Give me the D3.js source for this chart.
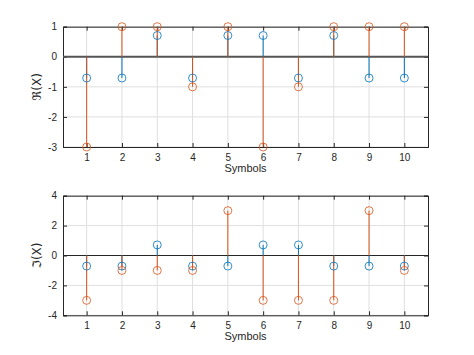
<!DOCTYPE html>
<html><head><meta charset="utf-8">
<script src="https://cdn.jsdelivr.net/npm/d3@7"></script>
<style>body{margin:0;background:#fff}svg text{font-family:Arial,"Liberation Sans",sans-serif}</style>
</head><body>
<svg id="c" width="474" height="355"></svg>
<script>
const symbols = [1,2,3,4,5,6,7,8,9,10];
const realRx = [-0.707,-0.707,0.707,-0.707,0.707,0.707,-0.707,0.707,-0.707,-0.707];
const realTx = [-3,1,1,-1,1,-3,-1,1,1,1];
const imagRx = [-0.707,-0.707,0.707,-0.707,-0.707,0.707,0.707,-0.707,-0.707,-0.707];
const imagTx = [-3,-1,-1,-1,3,-3,-3,-3,3,-1];
const realTicks = [-3,-2,-1,0,1];
const imagTicks = [-4,-2,0,2,4];
const xTicks = [1,2,3,4,5,6,7,8,9,10];

const svg = d3.select("#c");
const left = 63, right = 428;
const blue = "#0072BD", orange = "#D95319";

function panel(top, bottom, ydom, yticks, s1, s2, ylabel, thickBase) {
  const x = d3.scaleLinear().domain([0.33, 10.67]).range([left, right]);
  const y = d3.scaleLinear().domain(ydom).range([bottom, top]);
  const g = svg.append("g");
  g.selectAll(".gx").data(xTicks).enter().append("line")
    .attr("x1", d => x(d)).attr("x2", d => x(d)).attr("y1", top).attr("y2", bottom)
    .attr("stroke", "#dfdfdf").attr("stroke-width", 1);
  g.selectAll(".gy").data(yticks).enter().append("line")
    .attr("y1", d => y(d)).attr("y2", d => y(d)).attr("x1", left).attr("x2", right)
    .attr("stroke", "#dfdfdf").attr("stroke-width", 1);
  const fmt = d => String(d);
  const xa = g.append("g").attr("transform", `translate(0,${bottom})`)
    .call(d3.axisBottom(x).tickValues(xTicks).tickSize(-4).tickPadding(7).tickFormat(fmt));
  const xt = g.append("g").attr("transform", `translate(0,${top})`)
    .call(d3.axisTop(x).tickValues(xTicks).tickSize(-4).tickFormat(""));
  const ya = g.append("g").attr("transform", `translate(${left},0)`)
    .call(d3.axisLeft(y).tickValues(yticks).tickSize(-4).tickPadding(6).tickFormat(fmt));
  const yr = g.append("g").attr("transform", `translate(${right},0)`)
    .call(d3.axisRight(y).tickValues(yticks).tickSize(-4).tickFormat(""));
  [xa, xt, ya, yr].forEach(a => {
    a.select(".domain").attr("stroke", "#262626");
    a.selectAll(".tick line").attr("stroke", "#262626");
    a.selectAll("text").attr("fill", "#262626").style("font-size", "10px");
  });
  g.append("line").attr("x1", left).attr("x2", right).attr("y1", y(0)).attr("y2", y(0))
    .attr("stroke", thickBase ? "#555" : "#262626").attr("stroke-width", thickBase ? 2 : 1);
  [[s1, blue], [s2, orange]].forEach(([vals, col]) => {
    g.selectAll(null).data(vals).enter().append("line")
      .attr("x1", (d, i) => x(symbols[i])).attr("x2", (d, i) => x(symbols[i]))
      .attr("y1", y(0)).attr("y2", d => y(d))
      .attr("stroke", col).attr("stroke-width", 1);
  });
  [[s1, blue], [s2, orange]].forEach(([vals, col]) => {
    g.selectAll(null).data(vals).enter().append("circle")
      .attr("cx", (d, i) => x(symbols[i])).attr("cy", d => y(d)).attr("r", 4)
      .attr("fill", "none").attr("stroke", col).attr("stroke-width", 0.8);
  });
  g.append("text").attr("x", (left + right) / 2).attr("y", bottom + 25)
    .attr("text-anchor", "middle").style("font-size", "11px").attr("fill", "#262626").text("Symbols");
  g.append("text").attr("transform", `translate(41,${(top + bottom) / 2}) rotate(-90)`)
    .attr("text-anchor", "middle").style("font-size", "12px").style("font-family", "'DejaVu Sans', sans-serif")
    .attr("fill", "#262626").text(ylabel);
}
panel(26.7, 147, [-3, 1], realTicks, realRx, realTx, "ℜ(X)", true);
panel(195.7, 315.3, [-4, 4], imagTicks, imagRx, imagTx, "ℑ(X)", false);
</script>
</body></html>
